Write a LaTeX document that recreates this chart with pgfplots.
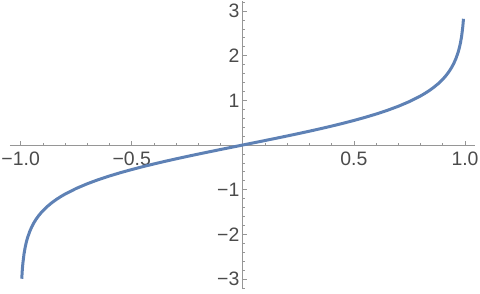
\documentclass[border=0pt]{standalone}
\usepackage{fontspec}
\setmainfont{Liberation Sans}
\usepackage{pgfplots}
\pgfplotsset{compat=1.18}
\definecolor{mline}{RGB}{94,129,181}
\definecolor{axgray}{RGB}{150,150,150}
\definecolor{labgray}{RGB}{75,75,75}
\begin{document}
\begin{tikzpicture}[x=1bp,y=1bp]
\begin{axis}[
  at={(0,0)}, anchor=south west,
  scale only axis, width=465bp, height=288bp,
  xmin=-1.048, xmax=1.045, ymin=-3.224, ymax=3.224,
  axis lines=middle,
  axis line style={axgray, line width=0.8bp, -},
  tick align=inside,
  xtick={-1,-0.5,0.5,1},
  xticklabels={−1.0,−0.5,0.5,1.0},
  ytick={-3,-2,-1,1,2,3},
  yticklabels={−3,−2,−1,1,2,3},
  minor xtick={-1,-0.9,-0.8,-0.7,-0.6,-0.5,-0.4,-0.3,-0.2,-0.1,0.1,0.2,0.3,0.4,0.5,0.6,0.7,0.8,0.9,1},
  minor ytick={-3.2,-3,-2.8,-2.6,-2.4,-2.2,-2,-1.8,-1.6,-1.4,-1.2,-1,-0.8,-0.6,-0.4,-0.2,0.2,0.4,0.6,0.8,1,1.2,1.4,1.6,1.8,2,2.2,2.4,2.6,2.8,3,3.2},
  major tick length=4bp, minor tick length=2.5bp,
  every tick/.style={axgray, line width=0.7bp},
  tick label style={font=\fontsize{19.5}{22}\selectfont, text=labgray},
  xticklabel style={yshift=-3.5bp},
  yticklabel style={xshift=0bp},
  clip=false,
]
\addplot[mline, line width=3bp, line join=round, line cap=butt] coordinates {
(-0.995,-2.99448) (-0.993,-2.82574) (-0.992,-2.75873) (-0.99,-2.64665) (-0.985,-2.44267)
(-0.98,-2.29756) (-0.975,-2.18472) (-0.97,-2.09230) (-0.96,-1.94591) (-0.95,-1.83178)
(-0.94,-1.73805) (-0.93,-1.65839) (-0.92,-1.58903) (-0.91,-1.52752) (-0.9,-1.47222)
(-0.88,-1.37577) (-0.86,-1.29334) (-0.84,-1.22117) (-0.82,-1.15682) (-0.8,-1.09861)
(-0.75,-0.97296) (-0.7,-0.86730) (-0.65,-0.77530) (-0.6,-0.69315) (-0.55,-0.61838)
(-0.5,-0.54931) (-0.45,-0.48470) (-0.4,-0.42365) (-0.35,-0.36544) (-0.3,-0.30952)
(-0.25,-0.25541) (-0.2,-0.20273) (-0.15,-0.15114) (-0.1,-0.10034) (-0.05,-0.05004)
(0,0)
(0.05,0.05004) (0.1,0.10034) (0.15,0.15114) (0.2,0.20273) (0.25,0.25541)
(0.3,0.30952) (0.35,0.36544) (0.4,0.42365) (0.45,0.48470) (0.5,0.54931)
(0.55,0.61838) (0.6,0.69315) (0.65,0.77530) (0.7,0.86730) (0.75,0.97296)
(0.8,1.09861) (0.82,1.15682) (0.84,1.22117) (0.86,1.29334) (0.88,1.37577)
(0.9,1.47222) (0.91,1.52752) (0.92,1.58903) (0.93,1.65839) (0.94,1.73805)
(0.95,1.83178) (0.96,1.94591) (0.97,2.09230) (0.975,2.18472) (0.98,2.29756)
(0.985,2.44267) (0.99,2.64665) (0.992,2.75873) (0.993,2.82574)
};
\end{axis}
\pgfresetboundingbox
\path[use as bounding box] (-10bp,-5bp) rectangle (470bp,289bp);
\end{tikzpicture}
\end{document}
